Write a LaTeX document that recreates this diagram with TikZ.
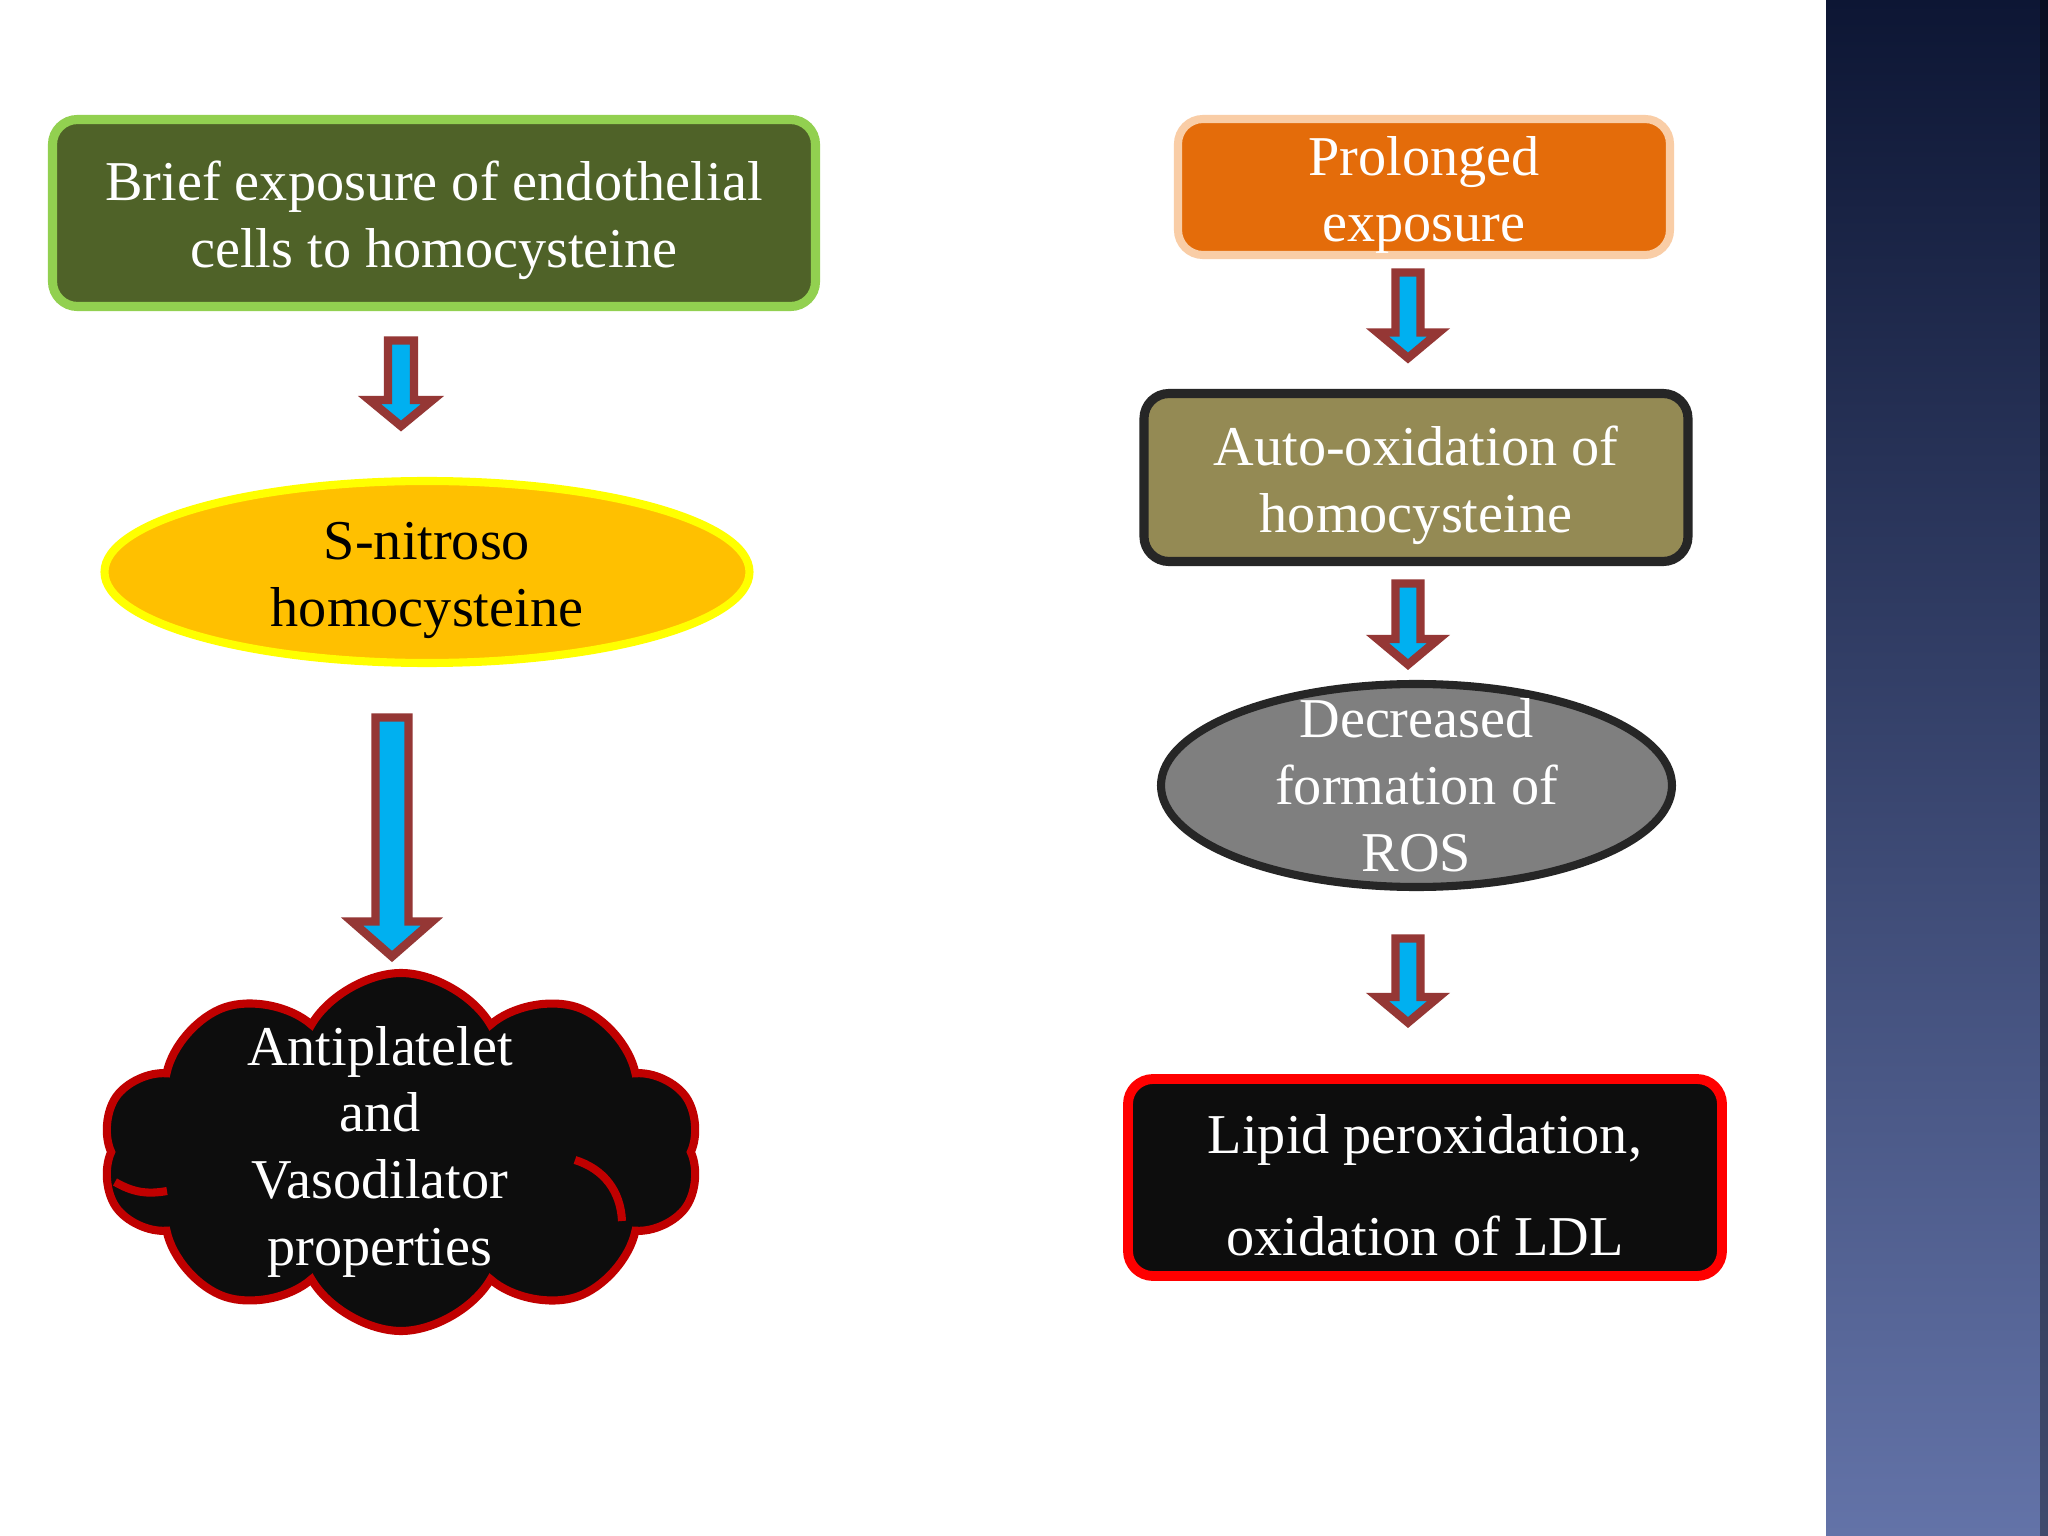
\documentclass[tikz,border=0pt]{standalone}
\usepackage{fontspec}
\setmainfont{Liberation Serif}
\usetikzlibrary{shapes.geometric,shapes.symbols,calc}

\definecolor{leafgreen}{HTML}{92D050}
\definecolor{olivegreen}{HTML}{4F6228}
\definecolor{amber}{HTML}{FFC000}
\definecolor{lemon}{HTML}{FFFF00}
\definecolor{cloudred}{HTML}{C00000}
\definecolor{nearblack}{HTML}{0D0D0D}
\definecolor{orangefill}{HTML}{E46C0A}
\definecolor{peach}{HTML}{F9CDA6}
\definecolor{khaki}{HTML}{948A54}
\definecolor{darkgray}{HTML}{262626}
\definecolor{midgray}{HTML}{7F7F7F}
\definecolor{arrowred}{HTML}{953735}
\definecolor{arrowblue}{HTML}{00B0F0}
\definecolor{bartop}{RGB}{13,22,52}
\definecolor{barbot}{RGB}{99,115,168}

% block arrow pointing down: start, tip, shaft half width, head half width, head length
\newcommand{\blockarrow}[5]{%
  \draw[flowarrow] ($(#1)+(-#3,0)$) -- ($(#2)+(-#3,#5)$) -- ($(#2)+(-#4,#5)$) -- (#2)
    -- ($(#2)+(#4,#5)$) -- ($(#2)+(#3,#5)$) -- ($(#1)+(#3,0)$) -- cycle;}

\begin{document}
\begin{tikzpicture}[
    every node/.style={font=\fontsize{16}{19}\selectfont, inner sep=0pt, align=center},
    lowtext/.style={text height=#1}, lowtext/.default=34.6pt,
    flowarrow/.style={draw=arrowred, fill=arrowblue, line width=2.4pt},
    roundbox/.style={rectangle, rounded corners=0.25cm, text=white}]

    % page and side bar
    \useasboundingbox (0,0) rectangle (20.48,-15.36);
    \fill[white] (0,0) rectangle (20.48,-15.36);
    \shade[top color=bartop, bottom color=barbot] (18.26,0) rectangle (20.48,-15.36);
    \fill[black, opacity=0.35] (20.40,0) rectangle (20.48,-15.36);

    % Short exposure
    \node[roundbox, lowtext, draw=leafgreen, fill=olivegreen, line width=2.6pt,
          minimum width=7.63cm, minimum height=1.87cm] (brief) at (4.34,-2.13)
          {Brief exposure of endothelial\\cells to homocysteine};
    \node[ellipse, lowtext, draw=lemon, fill=amber, line width=2.3pt, inner ysep=-0.2cm,
          minimum width=6.45cm, minimum height=1.82cm] (snitro) at (4.27,-5.72)
          {S-nitroso\\homocysteine};
    \node[cloud, cloud puffs=10, cloud puff arc=120, cloud ignores aspect,
          draw=cloudred, fill=nearblack, text=white, line width=2.3pt, inner ysep=-0.6cm,
          minimum width=5.99cm, minimum height=3.58cm] (anti) at (4.01,-11.52)
          {\begin{tabular}{@{}c@{}}Antiplatelet\\and\\Vasodilator\\properties\end{tabular}\hspace{0.42cm}};
    % inner curls of the cloud
    \draw[cloudred, line width=2.3pt] (5.75,-11.60) to[bend left=35] (6.22,-12.21);
    \draw[cloudred, line width=2.3pt] (1.15,-11.82) to[bend right=20] (1.67,-11.91);

    \coordinate (a1s) at (4.01,-3.405);
    \coordinate (a1e) at (4.01,-4.26);
    \coordinate (a2s) at (3.92,-7.175);
    \coordinate (a2e) at (3.92,-9.565);
    \blockarrow{a1s}{a1e}{0.13}{0.315}{0.26}
    \blockarrow{a2s}{a2e}{0.165}{0.40}{0.35}

    % Prolonged exposure
    \node[roundbox, lowtext, draw=peach, fill=orangefill, line width=2.3pt,
          minimum width=4.92cm, minimum height=1.36cm] (prolong) at (14.24,-1.87)
          {Prolonged\\exposure};
    \node[roundbox, lowtext, draw=darkgray, fill=khaki, line width=2.6pt,
          minimum width=5.44cm, minimum height=1.68cm] (autox) at (14.16,-4.775)
          {Auto-oxidation of\\homocysteine};
    \node[ellipse, draw=darkgray, fill=midgray, text=white, line width=2.3pt, inner ysep=-0.3cm,
          minimum width=5.11cm, minimum height=2.03cm] (ros) at (14.165,-7.855)
          {Decreased\\formation of\\ROS};
    \node[roundbox, lowtext=44.6pt, draw=red, fill=nearblack, line width=2.8pt,
          minimum width=5.94cm, minimum height=1.97cm] (lipid) at (14.25,-11.775)
          {Lipid peroxidation,\\[10pt]oxidation of LDL};

    \coordinate (b1s) at (14.08,-2.725);
    \coordinate (b1e) at (14.08,-3.58);
    \coordinate (b2s) at (14.08,-5.835);
    \coordinate (b2e) at (14.08,-6.645);
    \coordinate (b3s) at (14.08,-9.385);
    \coordinate (b3e) at (14.08,-10.225);
    \blockarrow{b1s}{b1e}{0.125}{0.305}{0.255}
    \blockarrow{b2s}{b2e}{0.125}{0.305}{0.255}
    \blockarrow{b3s}{b3e}{0.125}{0.305}{0.255}
\end{tikzpicture}
\end{document}
